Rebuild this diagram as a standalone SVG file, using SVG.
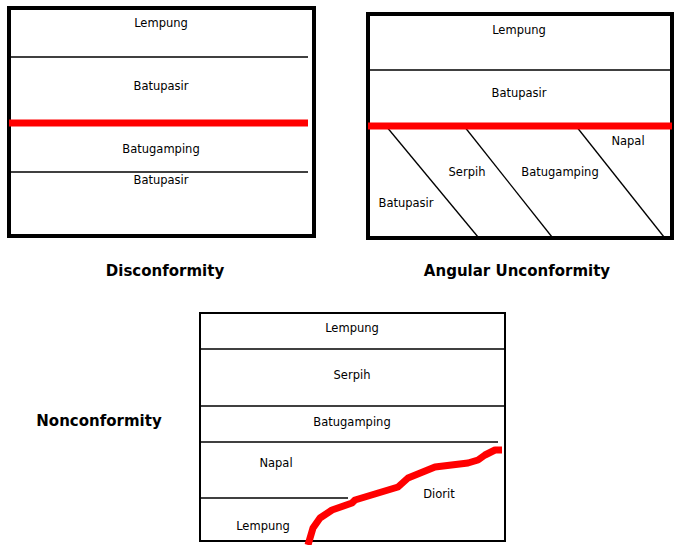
<svg xmlns="http://www.w3.org/2000/svg" width="681" height="545" viewBox="0 0 681 545">
<style>
text{font-family:"DejaVu Sans",Verdana,sans-serif;font-size:11.5px;fill:#000;text-anchor:middle}
.t{font-weight:bold;font-size:15px}
.l{stroke:#000;stroke-width:1.3}
.box{fill:#fff;stroke:#000;stroke-width:4}
.red{stroke:#f00;stroke-width:7;fill:none}
</style>
<rect width="681" height="545" fill="#fff"/>
<g id="disconformity">
<rect class="box" x="9" y="8" width="305" height="228"/>
<line class="l" x1="11" y1="57" x2="308" y2="57"/>
<line class="l" x1="11" y1="172" x2="308" y2="172"/>
<line class="red" x1="9" y1="123" x2="308" y2="123"/>
<text x="161" y="27">Lempung</text>
<text x="161" y="90">Batupasir</text>
<text x="161" y="153">Batugamping</text>
<text x="161" y="184">Batupasir</text>
<text class="t" x="165" y="276">Disconformity</text>
</g>
<g id="angular">
<rect class="box" x="368" y="14" width="304" height="224"/>
<line class="l" x1="370" y1="70" x2="670" y2="70"/>
<line class="l" x1="386" y1="126" x2="478" y2="237"/>
<line class="l" x1="464" y1="126" x2="552" y2="237"/>
<line class="l" x1="576" y1="126" x2="664" y2="237"/>
<line class="red" x1="368" y1="126" x2="672" y2="126"/>
<text x="519" y="34">Lempung</text>
<text x="519" y="97">Batupasir</text>
<text x="628" y="145">Napal</text>
<text x="467" y="176">Serpih</text>
<text x="560" y="176">Batugamping</text>
<text x="406" y="207">Batupasir</text>
<text class="t" x="517" y="276">Angular Unconformity</text>
</g>
<g id="nonconformity">
<rect x="200" y="313" width="305" height="228" fill="#fff" stroke="#000" stroke-width="2"/>
<line class="l" x1="201" y1="349" x2="504" y2="349"/>
<line class="l" x1="201" y1="406" x2="504" y2="406"/>
<line class="l" x1="201" y1="442" x2="498" y2="442" stroke-width="1.8"/>
<line class="l" x1="201" y1="498" x2="348" y2="498" stroke-width="1.8"/>
<polyline class="red" stroke-linejoin="round" points="308,545 313,528 320,518 332,510 352,503 355,500 398,487 408,478 435,467 468,463 478,460 485,455 495,450 502,450"/>
<text x="352" y="332">Lempung</text>
<text x="352" y="379">Serpih</text>
<text x="352" y="426">Batugamping</text>
<text x="276" y="467">Napal</text>
<text x="439" y="498">Diorit</text>
<text x="263" y="530">Lempung</text>
<text class="t" x="99" y="426">Nonconformity</text>
</g>
<g id="connectors"/>
</svg>
